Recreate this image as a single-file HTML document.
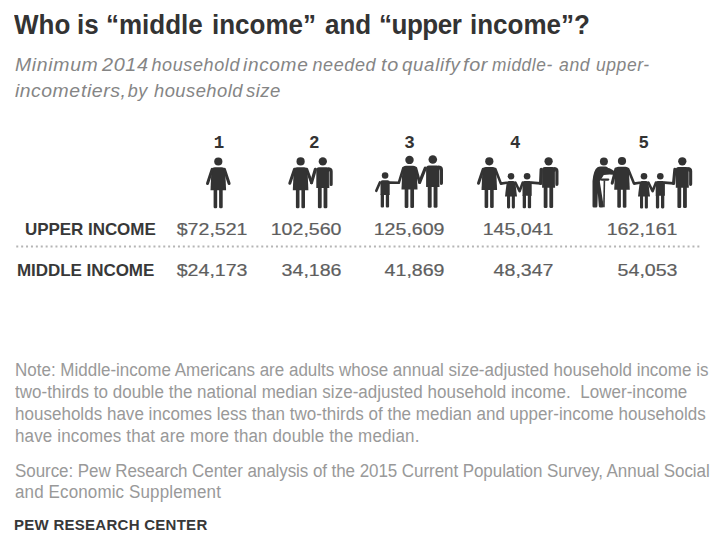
<!DOCTYPE html>
<html><head><meta charset="utf-8">
<style>
html,body{margin:0;padding:0;background:#fff;}
body{width:728px;height:541px;position:relative;overflow:hidden;font-family:"Liberation Sans",sans-serif;}
.a{position:absolute;white-space:nowrap;line-height:1;}
.title{left:14px;top:12.4px;font-size:27px;font-weight:bold;color:#333;}
.sub{left:15px;font-size:18px;font-style:italic;color:#858585;letter-spacing:0.55px;}
.num{font-family:"Liberation Mono",monospace;font-size:17.5px;font-weight:bold;color:#333;width:40px;text-align:center;}
.lab{font-size:17px;font-weight:bold;color:#383838;letter-spacing:-0.05px;}
.val{font-size:16.2px;color:#5e5e5e;-webkit-text-stroke:0.2px #5e5e5e;text-align:right;transform:scaleX(1.21);transform-origin:right top;}
.note{left:15px;font-size:17.6px;color:#999;transform:scaleX(0.966);transform-origin:left top;}
.pew{left:14px;font-size:15px;font-weight:bold;color:#383838;}
svg{position:absolute;left:0;top:0;}
.sw{position:absolute;top:0;transform-origin:left top;}
.w{position:absolute;top:0;transform:scaleX(0.963);transform-origin:left top;}
</style></head><body>
<div class="a title" id="title" style="width:600px;height:30px">
<span class="w" style="left:0px">Who</span><span class="w" style="left:63.1px">is</span><span class="w" style="left:91.6px">“middle</span><span class="w" style="left:198.1px">income”</span><span class="w" style="left:311.2px">and</span><span class="w" style="left:365.2px;letter-spacing:-0.5px">“upper</span><span class="w" style="left:455.6px">income”?</span></div>
<div class="a sub" id="sub1" style="left:0;top:56px;letter-spacing:0.61px"><span class="sw" style="left:14.5px;transform:scaleX(1.08)">Minimum</span><span class="sw" style="left:101.6px;transform:scaleX(1.1)">2014</span><span class="sw" style="left:151.5px;transform:scaleX(1.0)">household</span><span class="sw" style="left:243.0px;transform:scaleX(1.06)">income</span><span class="sw" style="left:312.5px;transform:scaleX(1.0)">needed</span><span class="sw" style="left:380.9px;transform:scaleX(1.1)">to</span><span class="sw" style="left:402.3px;transform:scaleX(1.04)">qualify</span><span class="sw" style="left:462.7px;transform:scaleX(1.1)">for</span><span class="sw" style="left:492.2px;transform:scaleX(0.96)">middle-</span><span class="sw" style="left:558.7px;transform:scaleX(0.98)">and</span><span class="sw" style="left:595.6px;transform:scaleX(0.97)">upper-</span></div>
<div class="a sub" id="sub2" style="left:0;top:82px;letter-spacing:0.46px"><span class="sw" style="left:14.8px;transform:scaleX(1.076)">income</span><span class="sw" style="left:81.4px;transform:scaleX(1.09)">tiers,</span><span class="sw" style="left:127.8px;transform:scaleX(1.0)">by</span><span class="sw" style="left:154.3px;transform:scaleX(1.02)">household</span><span class="sw" style="left:245.7px;transform:scaleX(1.03)">size</span></div>

<div class="a num" style="left:199.1px;top:135.2px">1</div>
<div class="a num" style="left:294.2px;top:135.2px">2</div>
<div class="a num" style="left:389.4px;top:135.2px">3</div>
<div class="a num" style="left:495.2px;top:135.2px">4</div>
<div class="a num" style="left:623.7px;top:135.2px">5</div>

<svg width="728" height="541" viewBox="0 0 728 541" fill="#333" style="position:absolute;left:0;top:0">
<defs>
 <g id="woman">
  <circle cx="0" cy="0" r="4.1"/>
  <path d="M-3.4,5.8 H3.4 Q6.5,5.8 6.9,8.8 L7.8,28.8 H-7.8 L-6.9,8.8 Q-6.5,5.8 -3.4,5.8 Z"/>
  <rect x="-4.7" y="27" width="3.6" height="19.8" rx="1.3"/>
  <rect x="0.8" y="27" width="3.6" height="19.8" rx="1.3"/>
 </g>
 <g id="man">
  <circle cx="0" cy="0" r="4.15"/>
  <path d="M-3.8,5.8 H3.8 Q6.5,5.8 6.5,8.6 V26.5 H-6.5 V8.6 Q-6.5,5.8 -3.8,5.8 Z"/>
  <rect x="-4.9" y="25" width="3.8" height="21.8" rx="1.3"/>
  <rect x="0.75" y="25" width="3.8" height="21.8" rx="1.3"/>
 </g>
 <g id="boy">
  <circle cx="0" cy="0" r="3.3"/>
  <path d="M-2.6,4.7 H2.6 Q4.6,4.7 4.6,6.7 V19.5 H-4.6 V6.7 Q-4.6,4.7 -2.6,4.7 Z"/>
  <rect x="-4.4" y="18" width="3.3" height="14.1" rx="1.1"/>
  <rect x="0.7" y="18" width="3.3" height="14.1" rx="1.1"/>
 </g>
 <g id="girl">
  <circle cx="0" cy="0" r="3.3"/>
  <path d="M-2.2,4.7 H2.2 Q4.1,4.7 4.4,6.7 L6,20.2 H-6 L-4.4,6.7 Q-4.1,4.7 -2.2,4.7 Z"/>
  <rect x="-4.0" y="19" width="3.1" height="13.2" rx="1.1"/>
  <rect x="0.8" y="19" width="3.1" height="13.2" rx="1.1"/>
 </g>
 <g id="armR"><path d="M5,5.8 Q9.9,5.8 9.9,9.8 V23 Q9.9,24.7 8.25,24.7 Q6.6,24.7 6.6,23 V9.5 H5 Z"/><path d="M6.55,10.5 V24" stroke="#fff" stroke-width="0.5" opacity="0.6"/></g>
 <g id="armL"><path d="M-5,5.8 Q-9.9,5.8 -9.9,9.8 V23 Q-9.9,24.7 -8.25,24.7 Q-6.6,24.7 -6.6,23 V9.5 H-5 Z"/><path d="M-6.55,10.5 V24" stroke="#fff" stroke-width="0.5" opacity="0.6"/></g>
</defs>
<use href="#woman" transform="translate(218.3,161.5) scale(1.0)"/>
<path d="M212.2,169.3 L207.5,183.5" stroke="#333" stroke-width="3.0" fill="none" stroke-linecap="round" stroke-linejoin="round"/>
<path d="M224.4,169.3 L229.1,183.5" stroke="#333" stroke-width="3.0" fill="none" stroke-linecap="round" stroke-linejoin="round"/>
<use href="#woman" transform="translate(300.6,161.4) scale(1.0)"/>
<use href="#man" transform="translate(322.8,161.4) scale(1.0)"/>
<use href="#armR" transform="translate(322.8,161.4)"/>
<path d="M294.5,169.2 L289.8,183.3" stroke="#333" stroke-width="3.0" fill="none" stroke-linecap="round" stroke-linejoin="round"/>
<path d="M306.70000000000005,169.2 L311.5,182.6" stroke="#333" stroke-width="3.0" fill="none" stroke-linecap="round" stroke-linejoin="round"/>
<path d="M311.5,182.6 L315.40000000000003,169.3" stroke="#333" stroke-width="3.2" fill="none" stroke-linecap="round" stroke-linejoin="round"/>
<use href="#boy" transform="translate(385.1,175.5) scale(1.0)"/>
<use href="#woman" transform="translate(409.5,159.9) scale(1.03)"/>
<use href="#man" transform="translate(432.8,159.6) scale(1.03)"/>
<use href="#armR" transform="translate(432.8,159.6) scale(1.03)"/>
<path d="M379.90000000000003,182.4 L376.3,190.8" stroke="#333" stroke-width="2.6" fill="none" stroke-linecap="round" stroke-linejoin="round"/>
<path d="M389.1,182.6 L398.8,182.8 L403.3,168.2" stroke="#333" stroke-width="2.6" fill="none" stroke-linecap="round" stroke-linejoin="round"/>
<path d="M415.7,168.2 L419.6,182.4" stroke="#333" stroke-width="3.0" fill="none" stroke-linecap="round" stroke-linejoin="round"/>
<path d="M419.6,182.4 L425.3,168.2" stroke="#333" stroke-width="3.2" fill="none" stroke-linecap="round" stroke-linejoin="round"/>
<use href="#woman" transform="translate(489.3,161.3) scale(1.0)"/>
<use href="#girl" transform="translate(511,176.2) scale(1.0)"/>
<use href="#boy" transform="translate(527.1,176.2) scale(1.0)"/>
<use href="#man" transform="translate(548.6,161.3) scale(1.0)"/>
<use href="#armR" transform="translate(548.6,161.3)"/>
<path d="M483.2,169.2 L478.5,183.3" stroke="#333" stroke-width="3.0" fill="none" stroke-linecap="round" stroke-linejoin="round"/>
<path d="M495.40000000000003,169.2 L500.9,183.6 L506.4,182.8" stroke="#333" stroke-width="2.6" fill="none" stroke-linecap="round" stroke-linejoin="round"/>
<path d="M515.4,182.6 L519.6,191.2 L522.7,182.6" stroke="#333" stroke-width="2.6" fill="none" stroke-linecap="round" stroke-linejoin="round"/>
<path d="M531.5,182.6 L540.6,183.4" stroke="#333" stroke-width="2.6" fill="none" stroke-linecap="round" stroke-linejoin="round"/>
<path d="M540.6,183.4 L541.2,169.3" stroke="#333" stroke-width="3.2" fill="none" stroke-linecap="round" stroke-linejoin="round"/>
<use href="#woman" transform="translate(622.0,161.0) scale(1.0)"/>
<use href="#girl" transform="translate(644,176.3) scale(1.0)"/>
<use href="#boy" transform="translate(660.3,176.3) scale(1.0)"/>
<use href="#man" transform="translate(682.3,161.3) scale(1.0)"/>
<use href="#armR" transform="translate(682.3,161.3)"/>
<path d="M615.9,169.0 L612.2,183.2" stroke="#333" stroke-width="3.0" fill="none" stroke-linecap="round" stroke-linejoin="round"/>
<path d="M628.1,169.0 L634.0,183.6 L639.4,182.8" stroke="#333" stroke-width="2.6" fill="none" stroke-linecap="round" stroke-linejoin="round"/>
<path d="M648.4,182.6 L652.6,191.2 L655.9,182.6" stroke="#333" stroke-width="2.6" fill="none" stroke-linecap="round" stroke-linejoin="round"/>
<path d="M664.6999999999999,182.6 L673.6,183.4" stroke="#333" stroke-width="2.6" fill="none" stroke-linecap="round" stroke-linejoin="round"/>
<path d="M673.6,183.4 L674.9,169.3" stroke="#333" stroke-width="3.2" fill="none" stroke-linecap="round" stroke-linejoin="round"/>
<circle cx="603.9" cy="161.5" r="4.0"/>
<path d="M600.5,166.4 H605.2 Q608.4,166.6 608.6,169.5 L603.6,175.2 L601.6,178.4 L599.8,181.5 L603.6,205.8 Q603.8,207.4 602.4,207.4 H600.2 Q599,207.4 598.8,206.2 L597.8,193 L597.4,206.2 Q597.3,207.4 596.1,207.4 H593.8 Q592.5,207.4 592.5,206.2 V181 Q593.5,170 597.5,167.3 Q598.8,166.4 600.5,166.4 Z"/>
<path d="M603.5,167.2 L609.5,168.2 Q612,169.2 614.4,171.2 Q615.6,172.4 615,173.8 Q614.4,175 612.8,174.8 L609.6,174.6 L603.8,174.9 Z"/>
<path d="M601.6,179.6 L608.2,179.6" stroke="#333" stroke-width="2.3" fill="none" stroke-linecap="round" stroke-linejoin="round"/>
<path d="M604.4,180.5 L603.9,207.2" stroke="#333" stroke-width="1.6" fill="none"/>
</svg>

<div class="a lab" style="left:25px;top:221px">UPPER INCOME</div>
<div class="a lab" style="left:17px;top:261.7px">MIDDLE INCOME</div>
<svg width="728" height="541" style="position:absolute;left:0;top:0"><line x1="16.25" y1="246.5" x2="699.5" y2="246.5" stroke="#b5b5b5" stroke-width="2" stroke-dasharray="2 2.9"/></svg>

<div class="a val" style="right:480.5px;top:221px">$72,521</div>
<div class="a val" style="right:386.5px;top:221px">102,560</div>
<div class="a val" style="right:283.5px;top:221px">125,609</div>
<div class="a val" style="right:174.5px;top:221px">145,041</div>
<div class="a val" style="right:50px;top:221px">162,161</div>

<div class="a val" style="right:480.5px;top:262px">$24,173</div>
<div class="a val" style="right:386.5px;top:262px">34,186</div>
<div class="a val" style="right:283.5px;top:262px">41,869</div>
<div class="a val" style="right:174.5px;top:262px">48,347</div>
<div class="a val" style="right:50px;top:262px">54,053</div>

<div class="a note" id="n1" style="top:361.6px">Note: Middle-income Americans are adults whose annual size-adjusted household income is</div>
<div class="a note" id="n2" style="top:383.7px;letter-spacing:0.03px">two-thirds to double the national median size-adjusted household income.&nbsp; Lower-income</div>
<div class="a note" id="n3" style="top:405.9px;letter-spacing:0.024px">households have incomes less than two-thirds of the median and upper-income households</div>
<div class="a note" id="n4" style="top:428.2px;letter-spacing:0.14px">have incomes that are more than double the median.</div>
<div class="a note" id="n5" style="top:463.1px;letter-spacing:-0.07px">Source: Pew Research Center analysis of the 2015 Current Population Survey, Annual Social</div>
<div class="a note" id="n6" style="top:484.1px;letter-spacing:0.13px">and Economic Supplement</div>
<div class="a pew" id="pew" style="top:517.4px;letter-spacing:0.27px">PEW RESEARCH CENTER</div>
</body></html>
